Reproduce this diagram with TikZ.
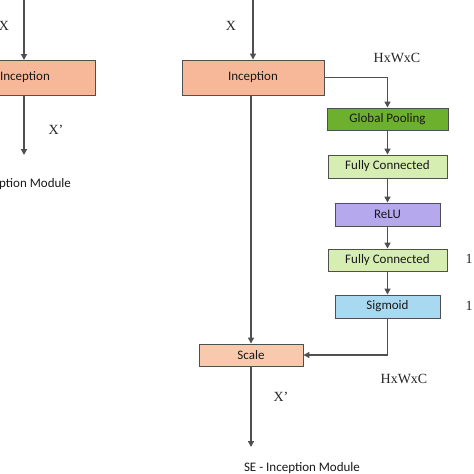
\documentclass[tikz,border=0pt]{standalone}
\usepackage{fontspec}
\setmainfont{Liberation Serif}
\newfontfamily\boxfont{Carlito}
\usetikzlibrary{arrows.meta}
\definecolor{linec}{HTML}{4F4F4F}
\definecolor{incf}{HTML}{F7B89A}
\definecolor{scf}{HTML}{F9C9AE}
\definecolor{gpf}{HTML}{6DB02E}
\definecolor{fcf}{HTML}{D6EEB2}
\definecolor{reluf}{HTML}{B6A8EC}
\definecolor{sigf}{HTML}{A9D9F0}
\tikzset{
  blk/.style={draw=linec, line width=0.9pt, inner sep=0pt, font=\boxfont\fontsize{13}{15}\selectfont, text=black!90},
  conn/.style={draw=linec, line width=1.3pt, -{Triangle[length=6pt,width=6pt]}},
  lab/.style={font=\fontsize{14}{16}\selectfont, text=black!85, inner sep=0pt},
  captext/.style={font=\boxfont\fontsize{13}{15}\selectfont, text=black!90, inner sep=0pt}
}
\begin{document}
\begin{tikzpicture}[x=1pt,y=-1pt]
\useasboundingbox (0,0) rectangle (474,474);
% left module
\coordinate (ltop) at (24,-2);
\node[blk, fill=incf, minimum width=120pt, minimum height=35pt] (linc) at (35,77.5) {\hspace*{-20pt}Inception};
\coordinate (lend) at (24,155);
\draw[conn] (ltop) -- (24,60);
\draw[conn] (24,95) -- (lend);
\node[lab] (lx) at (4,26) {X};
\node[lab] (lxp) at (56,130) {X'};
\node[captext, anchor=west] (lcap) at (-1,184) {ption Module};
% right module
\coordinate (rtop) at (253,-2);
\node[blk, fill=incf, minimum width=142pt, minimum height=35pt] (inc) at (253,77.5) {Inception};
\node[blk, fill=gpf, minimum width=121pt, minimum height=22pt] (gp) at (387.5,119) {Global Pooling};
\node[blk, fill=fcf, minimum width=119pt, minimum height=23pt] (fc1) at (387.5,166.5) {Fully Connected};
\node[blk, fill=reluf, minimum width=105pt, minimum height=23pt] (relu) at (387.5,214.5) {ReLU};
\node[blk, fill=fcf, minimum width=119pt, minimum height=22pt] (fc2) at (387.5,260) {Fully Connected};
\node[blk, fill=sigf, minimum width=105pt, minimum height=23pt] (sig) at (387.5,306.5) {Sigmoid};
\node[blk, fill=scf, minimum width=104pt, minimum height=22pt] (scale) at (251,355) {Scale};
\coordinate (rend) at (251,447);
\draw[conn] (rtop) -- (inc.north);
\draw[conn] (inc.east) -| (gp.north);
\draw[conn] (gp) -- (fc1);
\draw[conn] (fc1) -- (relu);
\draw[conn] (relu) -- (fc2);
\draw[conn] (fc2) -- (sig);
\draw[conn] (sig.south) |- (scale.east);
\draw[conn] (inc.south -| scale.north) -- (scale.north);
\draw[conn] (scale.south) -- (rend);
\node[lab] (x) at (231,26) {X};
\node[lab] (hwc1) at (397,58) {HxWxC};
\node[lab] (one1) at (469,259) {1};
\node[lab] (one2) at (469,306) {1};
\node[lab] (hwc2) at (404,379) {HxWxC};
\node[lab] (xp) at (281,397) {X'};
\node[captext] (cap) at (302,468) {SE - Inception Module};
\end{tikzpicture}
\end{document}
